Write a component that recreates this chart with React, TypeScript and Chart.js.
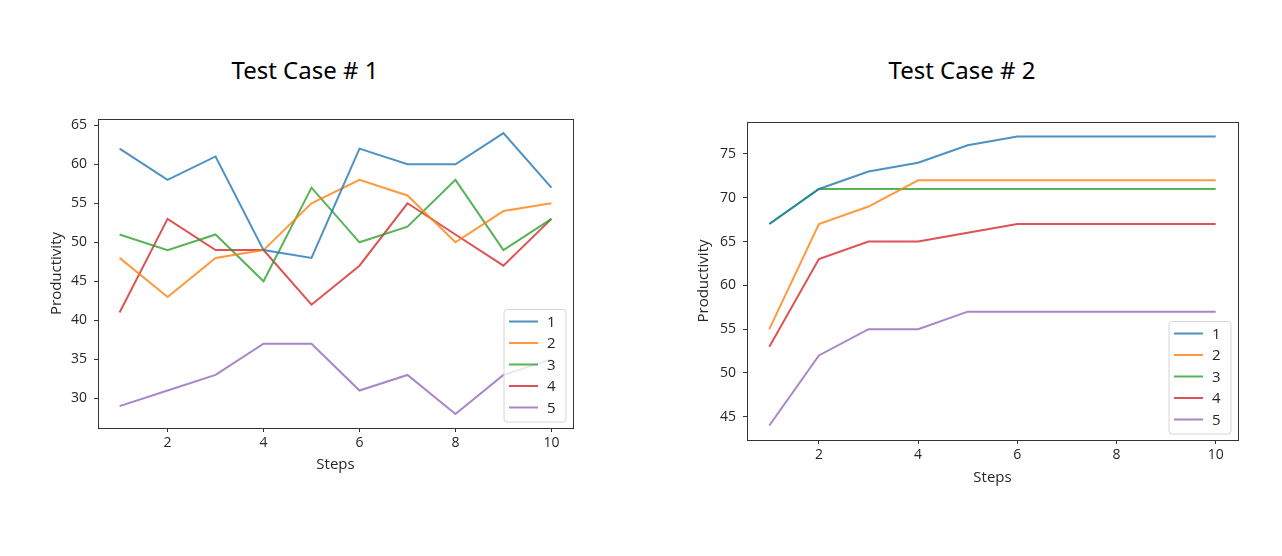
import React, { useEffect, useRef } from "react";
import { Chart, registerables } from "chart.js";

Chart.register(...registerables);

const steps = [1, 2, 3, 4, 5, 6, 7, 8, 9, 10];
const seriesLabels = ["1", "2", "3", "4", "5"];
const xTicks = [2, 4, 6, 8, 10];

const case1S1 = [62, 58, 61, 49, 48, 62, 60, 60, 64, 57];
const case1S2 = [48, 43, 48, 49, 55, 58, 56, 50, 54, 55];
const case1S3 = [51, 49, 51, 45, 57, 50, 52, 58, 49, 53];
const case1S4 = [41, 53, 49, 49, 42, 47, 55, 51, 47, 53];
const case1S5 = [29, 31, 33, 37, 37, 31, 33, 28, 33, 35];
const case1YTicks = [30, 35, 40, 45, 50, 55, 60, 65];

const case2S1 = [67, 71, 73, 74, 76, 77, 77, 77, 77, 77];
const case2S2 = [55, 67, 69, 72, 72, 72, 72, 72, 72, 72];
const case2S3 = [67, 71, 71, 71, 71, 71, 71, 71, 71, 71];
const case2S4 = [53, 63, 65, 65, 66, 67, 67, 67, 67, 67];
const case2S5 = [44, 52, 55, 55, 57, 57, 57, 57, 57, 57];
const case2YTicks = [45, 50, 55, 60, 65, 70, 75];

const COLORS = [
  "rgba(31,119,180,0.8)",
  "rgba(255,127,14,0.8)",
  "rgba(44,160,44,0.8)",
  "rgba(214,39,40,0.8)",
  "rgba(148,103,189,0.8)",
];

const FONT = "'Open Sans', 'Noto Sans', sans-serif";
const AXIS_COLOR = "#333";
const TEXT_COLOR = "#262626";

const framePlugin = {
  id: "frameBox",
  afterDraw(chart: any) {
    const { ctx, chartArea } = chart;
    ctx.save();
    ctx.strokeStyle = AXIS_COLOR;
    ctx.lineWidth = 1;
    ctx.strokeRect(
      Math.round(chartArea.left) + 0.5,
      Math.round(chartArea.top) + 0.5,
      Math.round(chartArea.right - chartArea.left),
      Math.round(chartArea.bottom - chartArea.top)
    );
    ctx.restore();
  },
};

const innerLegendPlugin = {
  id: "innerLegend",
  afterDraw(chart: any) {
    const { ctx, chartArea } = chart;
    const w = 62;
    const rowH = 21.5;
    const n = chart.data.datasets.length;
    const h = rowH * n + 5;
    const x = chartArea.right - 7 - w;
    const y = chartArea.bottom - 6 - h;
    ctx.save();
    const r = 3;
    ctx.beginPath();
    ctx.moveTo(x + r, y);
    ctx.lineTo(x + w - r, y);
    ctx.quadraticCurveTo(x + w, y, x + w, y + r);
    ctx.lineTo(x + w, y + h - r);
    ctx.quadraticCurveTo(x + w, y + h, x + w - r, y + h);
    ctx.lineTo(x + r, y + h);
    ctx.quadraticCurveTo(x, y + h, x, y + h - r);
    ctx.lineTo(x, y + r);
    ctx.quadraticCurveTo(x, y, x + r, y);
    ctx.closePath();
    ctx.fillStyle = "rgba(255,255,255,0.8)";
    ctx.fill();
    ctx.strokeStyle = "#d6d6d6";
    ctx.lineWidth = 1;
    ctx.stroke();
    ctx.font = `15px ${FONT}`;
    ctx.textBaseline = "middle";
    ctx.textAlign = "left";
    chart.data.datasets.forEach((ds: any, i: number) => {
      const cy = y + 12 + i * rowH;
      ctx.strokeStyle = ds.borderColor;
      ctx.lineWidth = 2;
      ctx.beginPath();
      ctx.moveTo(x + 5, cy);
      ctx.lineTo(x + 34, cy);
      ctx.stroke();
      ctx.fillStyle = TEXT_COLOR;
      ctx.fillText(ds.label, x + 43, cy + 1);
    });
    ctx.restore();
  },
};

function makeConfig(
  series: number[][],
  yMin: number,
  yMax: number,
  yTicks: number[],
  yWidth: number,
  xHeight: number,
  pad: { top: number; right: number },
  yTitlePad: number,
  xTitlePad: number
): any {
  return {
    type: "line",
    data: {
      datasets: series.map((vals, i) => ({
        label: seriesLabels[i],
        data: steps.map((s, j) => ({ x: s, y: vals[j] })),
        borderColor: COLORS[i],
        backgroundColor: COLORS[i],
        borderWidth: 2,
        pointRadius: 0,
        tension: 0,
        fill: false,
      })),
    },
    options: {
      responsive: false,
      animation: false,
      devicePixelRatio: 1,
      layout: { padding: { top: pad.top, right: pad.right, left: 0, bottom: 0 } },
      plugins: {
        legend: { display: false },
        tooltip: { enabled: false },
        title: { display: false },
      },
      scales: {
        x: {
          type: "linear",
          min: 0.55,
          max: 10.45,
          afterBuildTicks: (s: any) => {
            s.ticks = xTicks.map((v) => ({ value: v }));
          },
          afterFit: (s: any) => {
            s.height = xHeight;
          },
          border: { display: false },
          grid: {
            display: true,
            drawOnChartArea: false,
            drawTicks: true,
            tickLength: 4,
            color: AXIS_COLOR,
            lineWidth: 1,
          },
          ticks: {
            color: TEXT_COLOR,
            font: { family: FONT, size: 14 },
            padding: 3,
            maxRotation: 0,
            autoSkip: false,
          },
          title: {
            display: true,
            text: "Steps",
            color: TEXT_COLOR,
            font: { family: FONT, size: 15 },
            padding: { top: 0, bottom: xTitlePad },
          },
        },
        y: {
          type: "linear",
          min: yMin,
          max: yMax,
          afterBuildTicks: (s: any) => {
            s.ticks = yTicks.map((v) => ({ value: v }));
          },
          afterFit: (s: any) => {
            s.width = yWidth;
          },
          border: { display: false },
          grid: {
            display: true,
            drawOnChartArea: false,
            drawTicks: true,
            tickLength: 4,
            color: AXIS_COLOR,
            lineWidth: 1,
          },
          ticks: {
            color: TEXT_COLOR,
            font: { family: FONT, size: 14 },
            padding: 7,
            autoSkip: false,
          },
          title: {
            display: true,
            text: "Productivity",
            color: TEXT_COLOR,
            font: { family: FONT, size: 15 },
            padding: { top: yTitlePad, bottom: 0 },
          },
        },
      },
    },
    plugins: [framePlugin, innerLegendPlugin],
  };
}

function LineChart(props: {
  series: number[][];
  yMin: number;
  yMax: number;
  yTicks: number[];
  width: number;
  height: number;
  left: number;
  top: number;
  yWidth: number;
  xHeight: number;
  pad: { top: number; right: number };
  yTitlePad: number;
  xTitlePad: number;
}) {
  const ref = useRef<HTMLCanvasElement | null>(null);
  useEffect(() => {
    if (!ref.current) return;
    const chart = new Chart(
      ref.current,
      makeConfig(
        props.series,
        props.yMin,
        props.yMax,
        props.yTicks,
        props.yWidth,
        props.xHeight,
        props.pad,
        props.yTitlePad,
        props.xTitlePad
      )
    );
    return () => chart.destroy();
  }, []);
  return (
    <canvas
      ref={ref}
      width={props.width}
      height={props.height}
      style={{
        position: "absolute",
        left: props.left,
        top: props.top,
        width: props.width,
        height: props.height,
      }}
    />
  );
}

const titleStyle = (cx: number): React.CSSProperties => ({
  position: "absolute",
  left: cx,
  top: 70,
  transform: "translate(-50%, -50%)",
  fontFamily: "'Noto Sans', sans-serif",
  fontSize: 24,
  color: "#000",
  whiteSpace: "nowrap",
  lineHeight: 1,
});

export default function App() {
  return (
    <div
      style={{
        position: "absolute",
        left: 0,
        top: 0,
        width: 1282,
        height: 556,
        background: "#fff",
        overflow: "hidden",
      }}
    >
      <div style={titleStyle(305)}>Test Case # 1</div>
      <div style={titleStyle(962)}>Test Case # 2</div>
      <LineChart
        series={[case1S1, case1S2, case1S3, case1S4, case1S5]}
        yMin={26.2}
        yMax={65.8}
        yTicks={case1YTicks}
        left={30}
        top={100}
        width={570}
        height={390}
        yWidth={68}
        xHeight={62}
        pad={{ top: 19, right: 27 }}
        yTitlePad={17.5}
        xTitlePad={16}
      />
      <LineChart
        series={[case2S1, case2S2, case2S3, case2S4, case2S5]}
        yMin={42.35}
        yMax={78.65}
        yTicks={case2YTicks}
        left={680}
        top={100}
        width={580}
        height={400}
        yWidth={67}
        xHeight={60}
        pad={{ top: 22, right: 22 }}
        yTitlePad={15}
        xTitlePad={13}
      />
    </div>
  );
}
